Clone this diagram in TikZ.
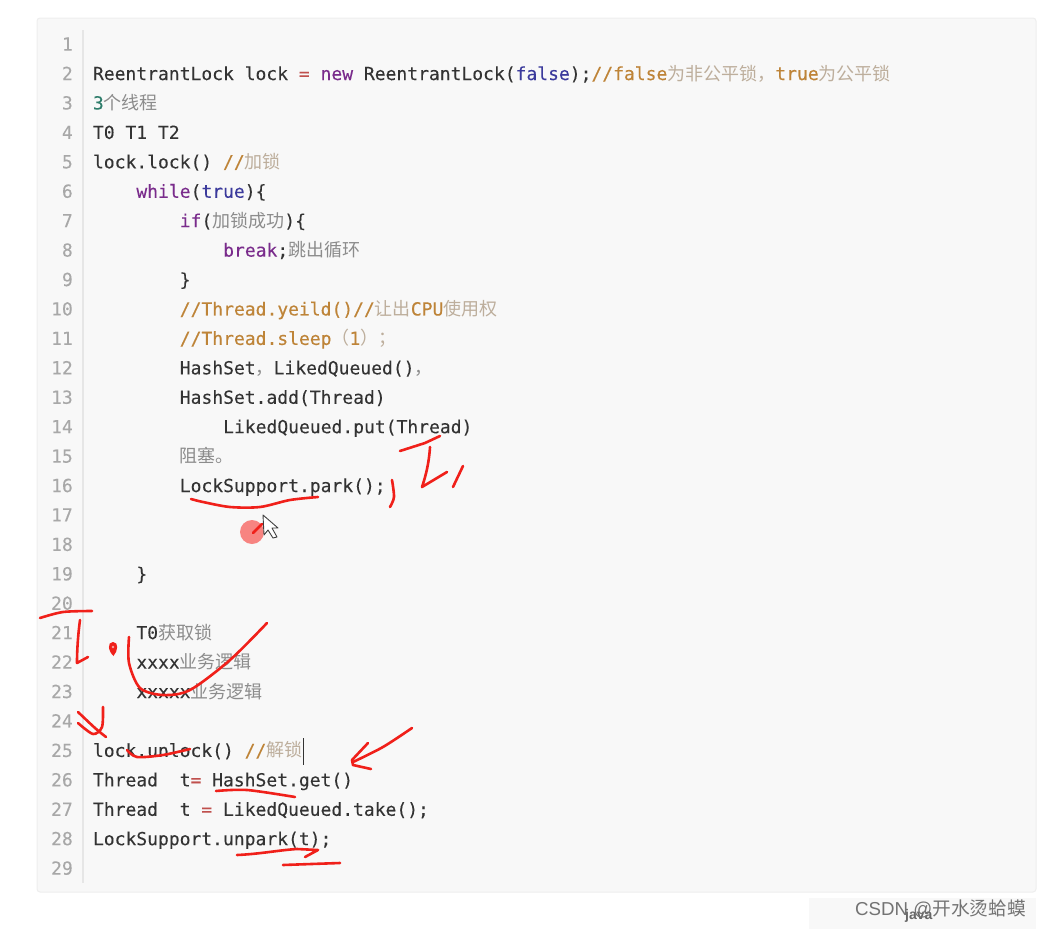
\documentclass[tikz,border=0pt]{standalone}
\usepackage{fontspec}
\setmonofont[FakeBold=0.12]{DejaVu Sans Mono}
\setsansfont{Liberation Sans}
\newfontfamily\cjkfont{Noto Sans CJK SC}
\newfontfamily\semimono[FakeBold=0.4]{DejaVu Sans Mono}
\definecolor{panelbg}{HTML}{F8F8F8}
\definecolor{panelline}{HTML}{EEEEEE}
\definecolor{gutter}{HTML}{E6E6E6}
\definecolor{numgray}{HTML}{A8A8A8}
\definecolor{plain}{HTML}{333333}
\definecolor{kw}{HTML}{7A2C8C}
\definecolor{lit}{HTML}{3B3A9C}
\definecolor{op}{HTML}{C0504D}
\definecolor{grn}{HTML}{2E7D6B}
\definecolor{cmt}{HTML}{BE8438}
\definecolor{cmtcjk}{HTML}{BDAE9C}
\definecolor{cjkgray}{HTML}{8C8C8C}
\definecolor{ink}{HTML}{F0201A}
\newcommand\cj[1]{{\cjkfont\color{cjkgray}#1}}
\newcommand\cc[1]{{\cjkfont\color{cmtcjk}#1}}
\newcommand\kwd[1]{{\color{kw}#1}}
\newcommand\litr[1]{{\color{lit}#1}}
\newcommand\opr[1]{{\color{op}#1}}
\newcommand\cmm[1]{{\semimono\color{cmt}#1}}
\newcommand\codeln[3]{\node[codeline] (ln#1) at ({93+10.85*#2},{50.6+29.43*(#1-1)}) {#3};}
\tikzset{
  codeline/.style={anchor=base west,inner sep=0pt,outer sep=0pt,text=plain,font=\ttfamily\fontsize{18}{20}\selectfont},
  numline/.style={anchor=base east,inner sep=0pt,text=numgray,font=\ttfamily\fontsize{18}{20}\selectfont},
  pen/.style={draw=ink,line width=2.6pt,line cap=round,line join=round,smooth,tension=0.5},
  sharp/.style={draw=ink,line width=2.6pt,line cap=round,line join=round},
}
\begin{document}
\begin{tikzpicture}[x=1pt,y=-1pt]
\useasboundingbox (0,0) rectangle (1042,929);
\fill[white] (0,0) rectangle (1042,929);
% panel
\draw[panelline,fill=panelbg,rounded corners=3pt,line width=1pt] (37,18) rectangle (1036,892);
\fill[panelbg] (809,898) rectangle (1036,929);
\draw[gutter,line width=1.5pt] (83,30) -- (83,883);
% line numbers
\foreach \n in {1,...,29}{
  \node[numline] (num\n) at ({73},{50.6+29.43*(\n-1)}) {\n};
}
% code
\codeln{2}{0}{ReentrantLock lock \opr{=} \kwd{new} ReentrantLock(\litr{false});\cmm{//false}\cc{为非公平锁，}\cmm{true}\cc{为公平锁}}
\codeln{3}{0}{{\color{grn}3}\cj{个线程}}
\codeln{4}{0}{T0 T1 T2}
\codeln{5}{0}{lock.lock() {\color{cmt}//}\cc{加锁}}
\codeln{6}{4}{\kwd{while}(\litr{true})\{}
\codeln{7}{8}{\kwd{if}(\cj{加锁成功})\{}
\codeln{8}{12}{\kwd{break};\cj{跳出循环}}
\codeln{9}{8}{\}}
\codeln{10}{8}{\cmm{//Thread.yeild()//}\cc{让出}\cmm{CPU}\cc{使用权}}
\codeln{11}{8}{\cmm{//Thread.sleep}\cc{（}\cmm{1}\cc{）；}}
\codeln{12}{8}{HashSet\cj{，}LikedQueued()\cj{，}}
\codeln{13}{8}{HashSet.add(Thread)}
\codeln{14}{12}{LikedQueued.put(Thread)}
\codeln{15}{8}{\cj{阻塞。}}
\codeln{16}{8}{LockSupport.park();}
\codeln{19}{4}{\}}
\codeln{21}{4}{T0\cj{获取锁}}
\codeln{22}{4}{xxxx\cj{业务逻辑}}
\codeln{23}{4}{xxxxx\cj{业务逻辑}}
\codeln{25}{0}{lock.unlock() {\color{cmt}//}\cc{解锁}}
\codeln{26}{0}{Thread~~t\opr{=} HashSet.get()}
\codeln{27}{0}{Thread~~t \opr{=} LikedQueued.take();}
\codeln{28}{0}{LockSupport.unpark(t);}
% text caret
\draw[plain,line width=1pt] (303,738) -- (303,765);
% tab label and watermark
\node[anchor=base west,inner sep=0pt,text=black!60,font=\sffamily\bfseries\fontsize{14}{16}\selectfont] (tab) at (905,919) {java};
\node[anchor=base west,inner sep=0pt,text=black!55,font=\sffamily\fontsize{18.7}{20}\selectfont] (mark) at (855,915) {CSDN @{\cjkfont 开水烫蛤蟆}};
% pointer spot
\fill[ink!55!white] (252,532) circle (12);
% red ink
\draw[sharp] (400,451) -- (425,443) -- (440,436);
\draw[sharp] (430,447) .. controls (429,463) and (426,475) .. (422,487) -- (447,472);
\draw[pen] plot coordinates {(463,466) (453,487)};
\draw[pen] plot coordinates {(392,480) (394,497) (390,507)};
\draw[pen] plot coordinates {(191,499) (203,502) (230,507) (260,507) (290,500) (318,497)};
\draw[pen] plot coordinates {(253,533) (262,524)};
\draw[pen] plot coordinates {(40,618) (63,612) (92,611)};
\draw[sharp] (80,620) .. controls (78,635) and (77,650) .. (77,663) -- (88,657);
\fill[ink] (113,642) .. controls (107,642) and (108,651) .. (113.5,656) .. controls (118,651) and (119,642) .. (113,642);
\fill[white!60!ink] (113,647) circle (1.4);
\draw[pen] plot coordinates {(129,637) (129,663) (140,688) (163,695) (190,690) (230,660) (267,623)};
\draw[pen] plot coordinates {(78,712) (95,728) (106,737)};
\draw[pen] plot coordinates {(103,707) (102,727) (93,734) (78,723)};
\draw[pen] plot coordinates {(127,750) (137,757) (163,755) (190,749)};
\draw[pen] plot coordinates {(412,728) (383,747) (353,762)};
\draw[sharp] (368,743) -- (352,760) -- (353,765) -- (371,769);
\draw[pen] plot coordinates {(216,791) (247,790) (295,797)};
\draw[sharp] (237,855) .. controls (260,854) and (280,850) .. (297,849) -- (318,850) -- (305,857);
\draw[pen] plot coordinates {(283,865) (340,863)};
% mouse cursor
\draw[black!75,fill=white,line width=0.9pt,line join=round] (263,515) -- (264,535) -- (268,530) -- (273,538) -- (277,537) -- (272,528) -- (278,528) -- cycle;
\end{tikzpicture}
\end{document}
